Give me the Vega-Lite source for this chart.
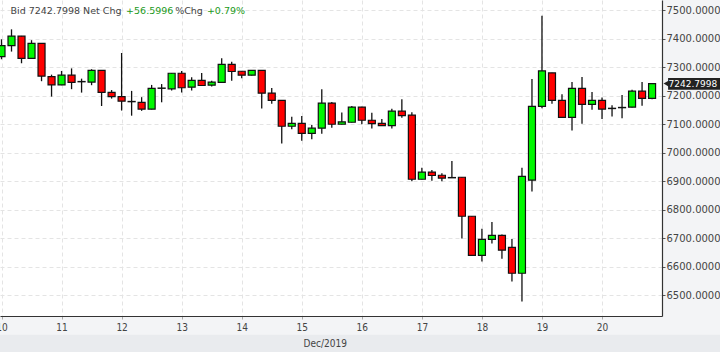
{
  "$schema": "https://vega.github.io/schema/vega-lite/v6.json",
  "width": 662,
  "height": 316,
  "autosize": {"type": "none"},
  "padding": {"left": 0, "top": 0, "right": 58, "bottom": 36},
  "background": "#f3f4f6",
  "config": {
    "view": {"fill": "#ffffff", "stroke": null},
    "font": "DejaVu Sans",
    "axis": {"labelOverlap": false, "labelSeparation": 0},
    "axisY": {"labelOverlap": false, "labelFlush": false},
    "axisX": {"labelOverlap": false, "labelFlush": false}
  },
  "datasets": {
    "candles": [
      {"t": "2019-12-10T00:00:00Z", "o": 7337, "h": 7398, "l": 7328, "c": 7376},
      {"t": "2019-12-10T04:00:00Z", "o": 7376, "h": 7433, "l": 7355, "c": 7409},
      {"t": "2019-12-10T08:00:00Z", "o": 7409, "h": 7410, "l": 7314, "c": 7331},
      {"t": "2019-12-10T12:00:00Z", "o": 7331, "h": 7395, "l": 7330, "c": 7384},
      {"t": "2019-12-10T16:00:00Z", "o": 7384, "h": 7385, "l": 7251, "c": 7269},
      {"t": "2019-12-10T20:00:00Z", "o": 7267, "h": 7274, "l": 7197, "c": 7238},
      {"t": "2019-12-11T00:00:00Z", "o": 7238, "h": 7287, "l": 7237, "c": 7272},
      {"t": "2019-12-11T04:00:00Z", "o": 7272, "h": 7296, "l": 7223, "c": 7247},
      {"t": "2019-12-11T08:00:00Z", "o": 7249, "h": 7260, "l": 7211, "c": 7250},
      {"t": "2019-12-11T12:00:00Z", "o": 7248, "h": 7293, "l": 7237, "c": 7289},
      {"t": "2019-12-11T16:00:00Z", "o": 7289, "h": 7290, "l": 7164, "c": 7212},
      {"t": "2019-12-11T20:00:00Z", "o": 7212, "h": 7220, "l": 7190, "c": 7197},
      {"t": "2019-12-12T00:00:00Z", "o": 7197, "h": 7350, "l": 7148, "c": 7181},
      {"t": "2019-12-12T04:00:00Z", "o": 7180, "h": 7217, "l": 7130, "c": 7179},
      {"t": "2019-12-12T08:00:00Z", "o": 7177, "h": 7195, "l": 7147, "c": 7153},
      {"t": "2019-12-12T12:00:00Z", "o": 7153, "h": 7238, "l": 7152, "c": 7226},
      {"t": "2019-12-12T16:00:00Z", "o": 7226, "h": 7241, "l": 7177, "c": 7227},
      {"t": "2019-12-12T20:00:00Z", "o": 7224, "h": 7280, "l": 7218, "c": 7279},
      {"t": "2019-12-13T00:00:00Z", "o": 7279, "h": 7287, "l": 7211, "c": 7228},
      {"t": "2019-12-13T04:00:00Z", "o": 7230, "h": 7265, "l": 7218, "c": 7254},
      {"t": "2019-12-13T08:00:00Z", "o": 7254, "h": 7280, "l": 7235, "c": 7236},
      {"t": "2019-12-13T12:00:00Z", "o": 7237, "h": 7253, "l": 7232, "c": 7248},
      {"t": "2019-12-13T16:00:00Z", "o": 7247, "h": 7332, "l": 7246, "c": 7310},
      {"t": "2019-12-13T20:00:00Z", "o": 7310, "h": 7319, "l": 7253, "c": 7285},
      {"t": "2019-12-14T00:00:00Z", "o": 7286, "h": 7287, "l": 7261, "c": 7272},
      {"t": "2019-12-14T04:00:00Z", "o": 7272, "h": 7290, "l": 7271, "c": 7289},
      {"t": "2019-12-14T08:00:00Z", "o": 7289, "h": 7290, "l": 7155, "c": 7209},
      {"t": "2019-12-14T12:00:00Z", "o": 7209, "h": 7227, "l": 7172, "c": 7184},
      {"t": "2019-12-14T16:00:00Z", "o": 7184, "h": 7185, "l": 7032, "c": 7093},
      {"t": "2019-12-14T20:00:00Z", "o": 7093, "h": 7126, "l": 7082, "c": 7103},
      {"t": "2019-12-15T00:00:00Z", "o": 7103, "h": 7129, "l": 7042, "c": 7068},
      {"t": "2019-12-15T04:00:00Z", "o": 7068, "h": 7097, "l": 7047, "c": 7086},
      {"t": "2019-12-15T08:00:00Z", "o": 7086, "h": 7223, "l": 7067, "c": 7174},
      {"t": "2019-12-15T12:00:00Z", "o": 7174, "h": 7178, "l": 7088, "c": 7100},
      {"t": "2019-12-15T16:00:00Z", "o": 7100, "h": 7141, "l": 7099, "c": 7108},
      {"t": "2019-12-15T20:00:00Z", "o": 7107, "h": 7164, "l": 7106, "c": 7160},
      {"t": "2019-12-16T00:00:00Z", "o": 7160, "h": 7161, "l": 7100, "c": 7114},
      {"t": "2019-12-16T04:00:00Z", "o": 7114, "h": 7140, "l": 7085, "c": 7102},
      {"t": "2019-12-16T08:00:00Z", "o": 7103, "h": 7118, "l": 7094, "c": 7095},
      {"t": "2019-12-16T12:00:00Z", "o": 7095, "h": 7154, "l": 7085, "c": 7146},
      {"t": "2019-12-16T16:00:00Z", "o": 7146, "h": 7188, "l": 7123, "c": 7130},
      {"t": "2019-12-16T20:00:00Z", "o": 7132, "h": 7142, "l": 6900, "c": 6907},
      {"t": "2019-12-17T00:00:00Z", "o": 6907, "h": 6947, "l": 6906, "c": 6932},
      {"t": "2019-12-17T04:00:00Z", "o": 6932, "h": 6939, "l": 6902, "c": 6920},
      {"t": "2019-12-17T08:00:00Z", "o": 6921, "h": 6928, "l": 6900, "c": 6911},
      {"t": "2019-12-17T12:00:00Z", "o": 6913, "h": 6971, "l": 6911, "c": 6912},
      {"t": "2019-12-17T16:00:00Z", "o": 6914, "h": 6915, "l": 6699, "c": 6777},
      {"t": "2019-12-17T20:00:00Z", "o": 6777, "h": 6778, "l": 6639, "c": 6640},
      {"t": "2019-12-18T00:00:00Z", "o": 6640, "h": 6733, "l": 6618, "c": 6696},
      {"t": "2019-12-18T04:00:00Z", "o": 6696, "h": 6757, "l": 6681, "c": 6710},
      {"t": "2019-12-18T08:00:00Z", "o": 6710, "h": 6713, "l": 6628, "c": 6658},
      {"t": "2019-12-18T12:00:00Z", "o": 6668, "h": 6697, "l": 6548, "c": 6577},
      {"t": "2019-12-18T16:00:00Z", "o": 6577, "h": 6947, "l": 6478, "c": 6917},
      {"t": "2019-12-18T20:00:00Z", "o": 6904, "h": 7259, "l": 6864, "c": 7163},
      {"t": "2019-12-19T00:00:00Z", "o": 7163, "h": 7481, "l": 7156, "c": 7287},
      {"t": "2019-12-19T04:00:00Z", "o": 7280, "h": 7281, "l": 7172, "c": 7184},
      {"t": "2019-12-19T08:00:00Z", "o": 7184, "h": 7205, "l": 7123, "c": 7124},
      {"t": "2019-12-19T12:00:00Z", "o": 7124, "h": 7248, "l": 7078, "c": 7226},
      {"t": "2019-12-19T16:00:00Z", "o": 7226, "h": 7266, "l": 7102, "c": 7170},
      {"t": "2019-12-19T20:00:00Z", "o": 7170, "h": 7213, "l": 7151, "c": 7184},
      {"t": "2019-12-20T00:00:00Z", "o": 7184, "h": 7194, "l": 7118, "c": 7153},
      {"t": "2019-12-20T04:00:00Z", "o": 7155, "h": 7167, "l": 7127, "c": 7156},
      {"t": "2019-12-20T08:00:00Z", "o": 7158, "h": 7203, "l": 7121, "c": 7159},
      {"t": "2019-12-20T12:00:00Z", "o": 7160, "h": 7221, "l": 7159, "c": 7216},
      {"t": "2019-12-20T16:00:00Z", "o": 7216, "h": 7248, "l": 7165, "c": 7191},
      {"t": "2019-12-20T20:00:00Z", "o": 7191, "h": 7243, "l": 7188, "c": 7242.7998}
    ]
  },
  "layer": [
    {
      "data": {"name": "candles"},
      "mark": {"type": "rule", "color": "#111111", "strokeWidth": 1.3},
      "encoding": {
        "x": {
          "field": "t",
          "type": "temporal",
          "scale": {
            "type": "utc",
            "padding": 0,
            "domain": [
              {"year": 2019, "month": 12, "date": 9, "hours": 23, "minutes": 24, "utc": true},
              {"year": 2019, "month": 12, "date": 20, "hours": 23, "minutes": 58, "utc": true}
            ]
          },
          "axis": {
            "orient": "bottom",
            "title": null,
            "format": "%d",
            "tickCount": {"interval": "day", "step": 1},
            "labelFlush": false,
            "labelOverlap": false,
            "labelAlign": "center",
            "labelFont": "DejaVu Sans Condensed, Liberation Sans Narrow, DejaVu Sans",
            "labelFontSize": 10,
            "labelColor": "#444444",
            "labelPadding": 3,
            "tickSize": 3,
            "tickColor": "#aaaaaa",
            "domainColor": "#333333",
            "domainWidth": 1.2,
            "grid": true,
            "gridColor": "#e4e4e4",
            "gridDash": [4, 3]
          }
        },
        "y": {
          "field": "l",
          "type": "quantitative",
          "scale": {"domain": [6427, 7536], "zero": false, "nice": false, "padding": 0},
          "axis": {
            "orient": "right",
            "title": null,
            "values": [6500, 6600, 6700, 6800, 6900, 7000, 7100, 7200, 7300, 7400, 7500],
            "tickCount": 12,
            "format": ".4f",
            "labelOverlap": false,
            "labelFlush": false,
            "labelFont": "DejaVu Sans",
            "labelFontSize": 10,
            "labelColor": "#444444",
            "labelPadding": 1,
            "tickSize": 3,
            "tickColor": "#555555",
            "domainColor": "#333333",
            "domainWidth": 1.2,
            "grid": true,
            "gridColor": "#e4e4e4",
            "gridDash": [4, 3]
          }
        },
        "y2": {"field": "h"}
      }
    },
    {
      "data": {"name": "candles"},
      "mark": {"type": "bar", "orient": "vertical", "size": 7, "stroke": "#111111", "strokeWidth": 1.2},
      "encoding": {
        "x": {"field": "t", "type": "temporal"},
        "y": {"field": "o", "type": "quantitative"},
        "y2": {"field": "c"},
        "fill": {
          "condition": {"test": "datum.c >= datum.o", "value": "#00f800"},
          "value": "#ff0000"
        }
      }
    },
    {
      "data": {"values": [{}]},
      "mark": {"type": "text", "align": "left", "baseline": "middle", "fontSize": 9.5, "font": "DejaVu Sans", "color": "#444444"},
      "encoding": {
        "x": {"datum": {"year": 2019, "month": 12, "date": 10, "hours": 3, "minutes": 36, "utc": true}, "type": "temporal"},
        "y": {"datum": 7497, "type": "quantitative"},
        "text": {"value": "Bid 7242.7998 Net Chg"}
      }
    },
    {
      "data": {"values": [{}]},
      "mark": {"type": "text", "align": "left", "baseline": "middle", "fontSize": 9.5, "font": "DejaVu Sans", "color": "#1a9a1a"},
      "encoding": {
        "x": {"datum": {"year": 2019, "month": 12, "date": 12, "hours": 1, "minutes": 48, "utc": true}, "type": "temporal"},
        "y": {"datum": 7497, "type": "quantitative"},
        "text": {"value": "+56.5996"}
      }
    },
    {
      "data": {"values": [{}]},
      "mark": {"type": "text", "align": "left", "baseline": "middle", "fontSize": 9.5, "font": "DejaVu Sans", "color": "#444444"},
      "encoding": {
        "x": {"datum": {"year": 2019, "month": 12, "date": 12, "hours": 21, "minutes": 24, "utc": true}, "type": "temporal"},
        "y": {"datum": 7497, "type": "quantitative"},
        "text": {"value": "%Chg"}
      }
    },
    {
      "data": {"values": [{}]},
      "mark": {"type": "text", "align": "left", "baseline": "middle", "fontSize": 9.5, "font": "DejaVu Sans", "color": "#1a9a1a"},
      "encoding": {
        "x": {"datum": {"year": 2019, "month": 12, "date": 13, "hours": 10, "minutes": 5, "utc": true}, "type": "temporal"},
        "y": {"datum": 7497, "type": "quantitative"},
        "text": {"value": "+0.79%"}
      }
    },
    {
      "data": {"values": [{}]},
      "mark": {"type": "rect", "color": "#e9ebee"},
      "encoding": {
        "x": {"datum": {"year": 2019, "month": 12, "date": 9, "utc": true}, "type": "temporal"},
        "x2": {"datum": {"year": 2019, "month": 12, "date": 22, "hours": 12, "utc": true}},
        "y": {"datum": 6361, "type": "quantitative"},
        "y2": {"datum": 6250}
      }
    },
    {
      "data": {"values": [{}]},
      "mark": {"type": "text", "align": "center", "baseline": "middle", "fontSize": 10, "font": "DejaVu Sans Condensed, Liberation Sans Narrow, DejaVu Sans", "color": "#444444"},
      "encoding": {
        "x": {"datum": {"year": 2019, "month": 12, "date": 15, "hours": 9, "minutes": 24, "utc": true}, "type": "temporal"},
        "y": {"datum": 6330, "type": "quantitative"},
        "text": {"value": "Dec/2019"}
      }
    },
    {
      "data": {"values": [{}]},
      "mark": {"type": "rect", "color": "#222222"},
      "encoding": {
        "x": {"datum": {"year": 2019, "month": 12, "date": 21, "hours": 2, "minutes": 24, "utc": true}, "type": "temporal"},
        "x2": {"datum": {"year": 2019, "month": 12, "date": 21, "hours": 23, "minutes": 24, "utc": true}},
        "y": {"datum": 7262, "type": "quantitative"},
        "y2": {"datum": 7221}
      }
    },
    {
      "data": {"values": [{}]},
      "mark": {"type": "point", "shape": "triangle-left", "filled": true, "color": "#222222", "size": 40, "opacity": 1},
      "encoding": {
        "x": {"datum": {"year": 2019, "month": 12, "date": 21, "hours": 1, "minutes": 40, "utc": true}, "type": "temporal"},
        "y": {"datum": 7242.8, "type": "quantitative"}
      }
    },
    {
      "data": {"values": [{}]},
      "mark": {"type": "text", "align": "left", "baseline": "middle", "fontSize": 9, "font": "DejaVu Sans", "color": "#ffffff"},
      "encoding": {
        "x": {"datum": {"year": 2019, "month": 12, "date": 21, "hours": 2, "minutes": 36, "utc": true}, "type": "temporal"},
        "y": {"datum": 7242.8, "type": "quantitative"},
        "text": {"value": "7242.7998"}
      }
    }
  ]
}
